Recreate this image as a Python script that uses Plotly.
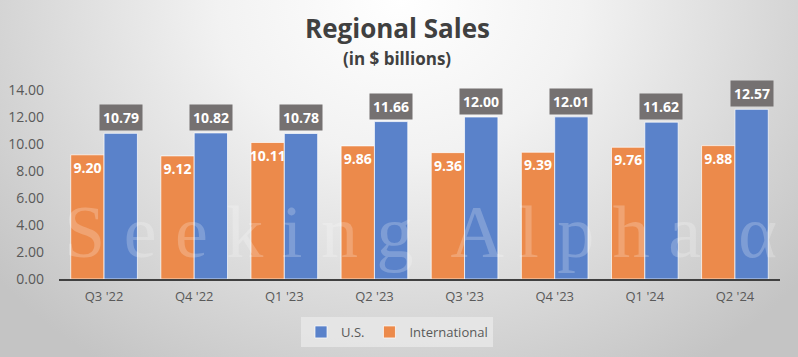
import base64
import plotly.graph_objects as go

quarters = ["Q3 '22", "Q4 '22", "Q1 '23", "Q2 '23", "Q3 '23", "Q4 '23", "Q1 '24", "Q2 '24"]
us_sales = [10.79, 10.82, 10.78, 11.66, 12.00, 12.01, 11.62, 12.57]
intl_sales = [9.20, 9.12, 10.11, 9.86, 9.36, 9.39, 9.76, 9.88]
y_ticks = [0, 2, 4, 6, 8, 10, 12, 14]

W, H = 798, 357
ML, MR, MT, MB = 59, 18, 90, 78
PW, PH = W - ML - MR, H - MT - MB

ORANGE = "#EC8A4B"
BLUE = "#5A82CA"

fig = go.Figure()
fig.add_trace(go.Bar(
    name="International", x=quarters, y=intl_sales,
    marker=dict(color=ORANGE, line=dict(color="rgba(255,255,255,0.7)", width=1)),
    text=[f"{v:.2f}" for v in intl_sales], textposition="inside",
    insidetextanchor="end", textangle=0, constraintext="none",
    textfont=dict(color="white", size=14, family="Open Sans", weight="bold"),
))
fig.add_trace(go.Bar(
    name="U.S.", x=quarters, y=us_sales,
    marker=dict(color=BLUE, line=dict(color="rgba(255,255,255,0.7)", width=1)),
))

for i, v in enumerate(us_sales):
    fig.add_annotation(
        x=i + 0.185, y=v, xref="x", yref="y", text=f"<b>{v:.2f}</b>",
        showarrow=False, yanchor="bottom", yshift=2,
        bgcolor="#757171", borderpad=3,
        font=dict(color="white", size=14, family="Open Sans"),
    )

# watermark
fig.add_annotation(
    x=(62 - ML) / PW, y=(MT + PH - 232) / PH, xref="paper", yref="paper",
    xanchor="left", yanchor="middle", showarrow=False,
    text="S e e k i n g &nbsp;A l p h a &nbsp;α",
    font=dict(family="Liberation Serif", size=74, color="rgba(255,255,255,0.22)"),
)

# radial gradient background
svg = f'''<svg xmlns="http://www.w3.org/2000/svg" width="{W}" height="{H}">
<defs><radialGradient id="g" cx="400" cy="0" r="520" gradientUnits="userSpaceOnUse" gradientTransform="translate(400,0) scale(1,0.85) translate(-400,0)">
<stop offset="0" stop-color="#ffffff"/><stop offset="0.35" stop-color="#f2f2f2"/><stop offset="1" stop-color="#c4c4c4"/></radialGradient></defs>
<rect width="{W}" height="{H}" fill="url(#g)"/></svg>'''
uri = "data:image/svg+xml;base64," + base64.b64encode(svg.encode()).decode()
fig.add_layout_image(
    source=uri, xref="paper", yref="paper",
    x=-ML / PW, y=(PH + MT) / PH, sizex=W / PW, sizey=H / PH,
    xanchor="left", yanchor="top", sizing="stretch", layer="below",
)

CX = 0.5 + (397 - ML - PW / 2) / PW
fig.add_annotation(
    x=CX, y=(PH + MT - 28) / PH, xref="paper", yref="paper", showarrow=False,
    text="<b>Regional Sales</b>", yanchor="middle",
    font=dict(family="Open Sans", size=26, color="#404040"),
)
fig.add_annotation(
    x=CX, y=(PH + MT - 58) / PH, xref="paper", yref="paper", showarrow=False,
    text="<b>(in $ billions)</b>", yanchor="middle",
    font=dict(family="Open Sans", size=17, color="#404040"),
)

fig.update_layout(
    width=W, height=H,
    margin=dict(l=ML, r=MR, t=MT, b=MB, autoexpand=False),
    paper_bgcolor="#d9d9d9", plot_bgcolor="rgba(0,0,0,0)",
    barmode="group", bargap=0.26, bargroupgap=0.0,
    showlegend=True,
    legend=dict(orientation="h", traceorder="reversed",
                x=CX, xanchor="center",
                y=(PH - (317 - MT)) / PH, yanchor="top", bgcolor="rgba(232,232,232,0.8)",
                font=dict(family="Open Sans", size=13, color="#595959"),
                itemwidth=30),
    font=dict(family="Open Sans"),
)
fig.update_yaxes(range=[0, 14], tickvals=y_ticks, ticktext=[f"{t:.2f}" for t in y_ticks],
                 showgrid=False, zeroline=False, showline=False,
                 tickfont=dict(size=14, color="#595959"), ticklen=0, ticklabelstandoff=14)
fig.update_xaxes(showgrid=False, showline=True, linecolor="#404040", linewidth=2,
                 tickfont=dict(size=13, color="#595959"), ticks="", ticklabelstandoff=4)

fig.write_html("out.html", config={"displayModeBar": False},
               post_script="document.body.style.margin='0';document.body.style.overflow='hidden';")
